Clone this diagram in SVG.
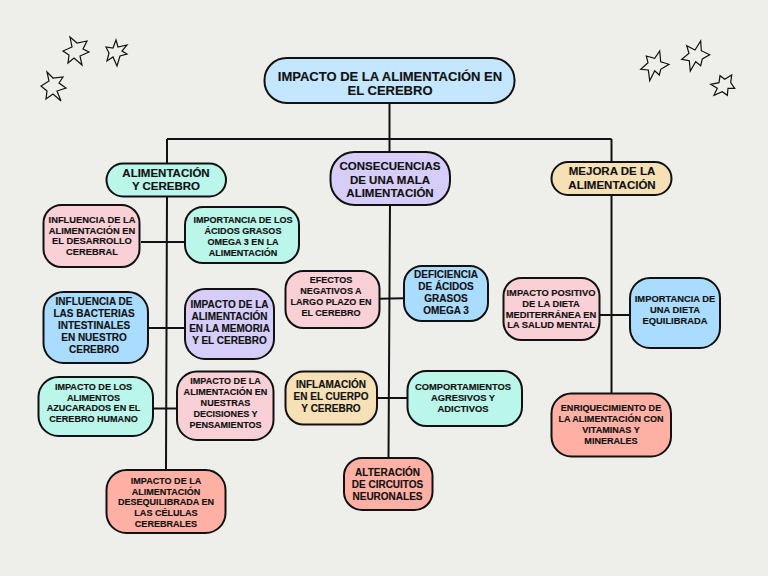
<svg xmlns="http://www.w3.org/2000/svg" width="768" height="576" viewBox="0 0 768 576">
<style>
text{font-family:"Liberation Sans",Arial,sans-serif;font-weight:700;fill:#111;stroke:#111;stroke-width:.15;text-anchor:middle}
.b{stroke:#111;stroke-width:2}
.blue1{fill:#c4e7ff}.mint{fill:#baf6ea}.lav{fill:#d6cdf8}.sand{fill:#f6e0b5}.pink{fill:#f9d0d6}.blue{fill:#aadcff}.sal{fill:#ffb0a4}
.s{fill:none;stroke:#111;stroke-width:1.2;stroke-linejoin:miter}
.c{fill:none;stroke:#111;stroke-width:2}
.t14{font-size:13px}.t12{font-size:11.5px}.t10{font-size:10px}.t9{font-size:9.05px}.t93{font-size:9.35px}
</style>
<rect width="768" height="576" fill="#eeefea"/>
<g id="stars">
<polygon class="s" points="70,37 77,43 87,41 83,49 89,52 80,56 82,65 74,58 68,63 69,55 63,51 72,47"/>
<polygon class="s" points="116,40 118,47 127,45 122,51 127,54 120,56 117,66 113,57 107,61 109,53 106,47 113,48"/>
<polygon class="s" points="47,72 53,78 63,77 59,83 66,88 57,91 61,101 53,94 46,99 47,91 41,86 49,81"/>
<polygon class="s" points="659.7,51 660.7,61.7 669,64.3 660.7,69.3 659.3,75 654.7,70.7 649.7,80.7 648.3,70 640.7,69.3 648,62.7 646.3,56 654.7,58.3"/>
<polygon class="s" points="700.7,41 701.3,50.7 709.7,54.7 702.3,59 700.7,65.7 695.7,61.7 690.3,71 689.3,60.7 681.7,59.3 689,53.3 686.7,45.7 695,50"/>
<polygon class="s" points="731.7,75 730.7,82.7 734.7,88.3 728,88.3 727.3,95.3 722.3,91.7 714,95.3 717.3,88.3 710.7,84.3 719,82.7 720,75.7 724.7,79.3"/>
</g>
<g id="connectors">
<path class="c" d="M389.5 103V152M167 139H611.5M167 139V164M611.5 139V162M167 196L166 470M390 205L388.5 458M611.5 195V393"/>
<path class="c" d="M141 242H185M148 328H185M153 408.5H177M379 298.8L404 298.2M377 398H407M599 315H630"/>
</g>
<g id="root"><rect class="b blue1" x="264.500" y="58" width="250" height="45" rx="22"/><text class="t14"><tspan x="390" y="81">IMPACTO DE LA ALIMENTACIÓN EN</tspan><tspan x="390" y="95">EL CEREBRO</tspan></text></g>
<g id="n1"><rect class="b mint" x="106.500" y="163.500" width="119.500" height="33" rx="16.500"/><text class="t12"><tspan x="166" y="177">ALIMENTACIÓN</tspan><tspan x="166" y="190">Y CEREBRO</tspan></text></g>
<g id="n2"><rect class="b lav" x="330.500" y="152" width="119.500" height="53" rx="24"/><text class="t12"><tspan x="390" y="170">CONSECUENCIAS</tspan><tspan x="390" y="184">DE UNA MALA</tspan><tspan x="390" y="197">ALIMENTACIÓN</tspan></text></g>
<g id="n3"><rect class="b sand" x="551.500" y="162" width="120" height="33" rx="16.500"/><text class="t12"><tspan x="612" y="175">MEJORA DE LA</tspan><tspan x="612" y="189">ALIMENTACIÓN</tspan></text></g>
<g id="n4"><rect class="b pink" x="43.500" y="205" width="96" height="62" rx="18"/><text class="t93"><tspan x="92" y="223">INFLUENCIA DE LA</tspan><tspan x="92" y="234">ALIMENTACIÓN EN</tspan><tspan x="92" y="244">EL DESARROLLO</tspan><tspan x="92" y="255">CEREBRAL</tspan></text></g>
<g id="n5"><rect class="b mint" x="185" y="207" width="114" height="56" rx="18"/><text class="t9"><tspan x="243" y="223">IMPORTANCIA DE LOS</tspan><tspan x="243" y="234">ÁCIDOS GRASOS</tspan><tspan x="243" y="245">OMEGA 3 EN LA</tspan><tspan x="243" y="256">ALIMENTACIÓN</tspan></text></g>
<g id="n6"><rect class="b blue" x="43.500" y="292" width="104.500" height="71" rx="20"/><text class="t10"><tspan x="94" y="305">INFLUENCIA DE</tspan><tspan x="94" y="317">LAS BACTERIAS</tspan><tspan x="94" y="329">INTESTINALES</tspan><tspan x="94" y="341">EN NUESTRO</tspan><tspan x="94" y="353">CEREBRO</tspan></text></g>
<g id="n7"><rect class="b lav" x="185" y="289" width="89" height="70" rx="20"/><text class="t10"><tspan x="229.500" y="308">IMPACTO DE LA</tspan><tspan x="229.500" y="320">ALIMENTACIÓN</tspan><tspan x="229.500" y="332">EN LA MEMORIA</tspan><tspan x="229.500" y="344">Y EL CEREBRO</tspan></text></g>
<g id="n8"><rect class="b mint" x="38.500" y="377" width="114.500" height="59" rx="20"/><text class="t9"><tspan x="93.500" y="390">IMPACTO DE LOS</tspan><tspan x="93.500" y="401">ALIMENTOS</tspan><tspan x="93.500" y="411">AZUCARADOS EN EL</tspan><tspan x="93.500" y="422">CEREBRO HUMANO</tspan></text></g>
<g id="n9"><rect class="b pink" x="177" y="371.500" width="96.500" height="68.500" rx="20"/><text class="t9"><tspan x="225.500" y="384">IMPACTO DE LA</tspan><tspan x="225.500" y="395">ALIMENTACIÓN EN</tspan><tspan x="225.500" y="406">NUESTRAS</tspan><tspan x="225.500" y="417">DECISIONES Y</tspan><tspan x="225.500" y="428">PENSAMIENTOS</tspan></text></g>
<g id="n10"><rect class="b sal" x="106.500" y="470" width="119" height="63" rx="20"/><text class="t9"><tspan x="166" y="484">IMPACTO DE LA</tspan><tspan x="166" y="495">ALIMENTACIÓN</tspan><tspan x="166" y="505">DESEQUILIBRADA EN</tspan><tspan x="166" y="516">LAS CÉLULAS</tspan><tspan x="166" y="527">CEREBRALES</tspan></text></g>
<g id="n11"><rect class="b pink" x="285.500" y="271" width="94" height="57" rx="18"/><text class="t9"><tspan x="331" y="283">EFECTOS</tspan><tspan x="331" y="294">NEGATIVOS A</tspan><tspan x="331" y="305">LARGO PLAZO EN</tspan><tspan x="331" y="316">EL CEREBRO</tspan></text></g>
<g id="n12"><rect class="b blue" x="404" y="266" width="84" height="55" rx="18"/><text class="t10"><tspan x="446" y="278">DEFICIENCIA</tspan><tspan x="446" y="290">DE ÁCIDOS</tspan><tspan x="446" y="302">GRASOS</tspan><tspan x="446" y="314">OMEGA 3</tspan></text></g>
<g id="n13"><rect class="b pink" x="503.500" y="278" width="96" height="62" rx="18"/><text class="t93"><tspan x="551" y="296">IMPACTO POSITIVO</tspan><tspan x="551" y="307">DE LA DIETA</tspan><tspan x="551" y="318">MEDITERRÁNEA EN</tspan><tspan x="551" y="328">LA SALUD MENTAL</tspan></text></g>
<g id="n14"><rect class="b blue" x="630" y="278" width="90" height="70" rx="20"/><text class="t93"><tspan x="675" y="302">IMPORTANCIA DE</tspan><tspan x="675" y="313">UNA DIETA</tspan><tspan x="675" y="324">EQUILIBRADA</tspan></text></g>
<g id="n15"><rect class="b sand" x="285.500" y="371.500" width="91.500" height="53" rx="18"/><text class="t10"><tspan x="331" y="388">INFLAMACIÓN</tspan><tspan x="331" y="400">EN EL CUERPO</tspan><tspan x="331" y="412">Y CEREBRO</tspan></text></g>
<g id="n16"><rect class="b mint" x="407.500" y="371" width="114.500" height="55" rx="19"/><text class="t93"><tspan x="463" y="390">COMPORTAMIENTOS</tspan><tspan x="463" y="401">AGRESIVOS Y</tspan><tspan x="463" y="412">ADICTIVOS</tspan></text></g>
<g id="n17"><rect class="b sal" x="344" y="458" width="88.500" height="52" rx="18"/><text class="t10"><tspan x="387.500" y="476">ALTERACIÓN</tspan><tspan x="387.500" y="488">DE CIRCUITOS</tspan><tspan x="387.500" y="500">NEURONALES</tspan></text></g>
<g id="n18"><rect class="b sal" x="551.500" y="393.500" width="119.500" height="63" rx="20"/><text class="t9"><tspan x="611" y="411">ENRIQUECIMIENTO DE</tspan><tspan x="611" y="422">LA ALIMENTACIÓN CON</tspan><tspan x="611" y="433">VITAMINAS Y</tspan><tspan x="611" y="444">MINERALES</tspan></text></g>
</svg>
